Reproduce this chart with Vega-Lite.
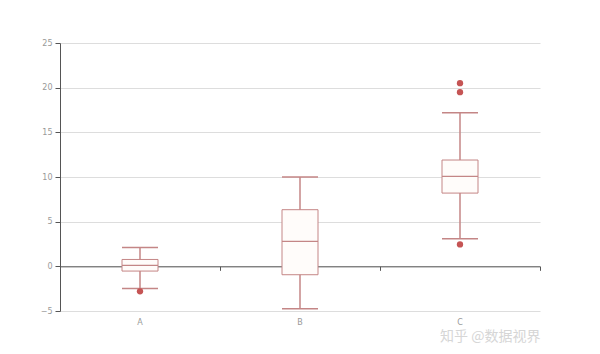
{
  "$schema": "https://vega.github.io/schema/vega-lite/v6.json",
  "width": 480,
  "height": 268,
  "autosize": {"type": "none"},
  "padding": {"left": 60, "top": 43, "right": 60, "bottom": 43},
  "background": "white",
  "config": {
    "view": {"stroke": null},
    "axis": {"labelFont": "DejaVu Sans", "labelFontSize": 8, "labelColor": "#999999"}
  },
  "title": {"text": "知乎 @数据视界", "orient": "bottom", "anchor": "end", "fontSize": 14, "font": "Noto Sans CJK SC", "fontWeight": "normal", "color": "#d6d6d6", "offset": 4},
  "datasets": {
    "stats": [
      {"group": "A", "lower": -2.47, "q1": -0.53, "median": 0.1, "q3": 0.77, "upper": 2.12},
      {"group": "B", "lower": -4.75, "q1": -0.94, "median": 2.79, "q3": 6.34, "upper": 10.0},
      {"group": "C", "lower": 3.1, "q1": 8.2, "median": 10.07, "q3": 11.9, "upper": 17.2}
    ],
    "outliers": [
      {"group": "A", "value": -2.8},
      {"group": "C", "value": 2.45},
      {"group": "C", "value": 19.5},
      {"group": "C", "value": 20.5}
    ]
  },
  "resolve": {"axis": {"x": "independent"}},
  "layer": [
    {
      "data": {"name": "stats"},
      "mark": {"type": "bar", "size": 36, "fill": "#fffcfa", "stroke": "#c48686", "strokeWidth": 1},
      "encoding": {
        "x": {"field": "group", "type": "nominal", "scale": {"paddingInner": 0, "paddingOuter": 0},
              "axis": {"orient": "bottom", "title": null, "domain": false, "ticks": false, "grid": false, "labelAngle": 0, "labelPadding": 7}},
        "y": {"field": "q1", "type": "quantitative", "scale": {"domain": [-5, 25], "nice": false, "zero": false},
              "axis": {"title": null, "values": [-5, 0, 5, 10, 15, 20, 25], "grid": true, "gridColor": "#dddddd", "gridWidth": 1,
                       "domainColor": "#555555", "tickColor": "#555555", "tickSize": 5, "labelPadding": 3}},
        "y2": {"field": "q3"}
      }
    },
    {
      "data": {"name": "stats"},
      "mark": {"type": "rule", "color": "#c48686", "strokeWidth": 1.5},
      "encoding": {
        "x": {"field": "group", "type": "nominal",
              "axis": {"orient": "top", "offset": -223.33, "title": null, "labels": false, "grid": false, "tickBand": "extent",
                       "tickSize": -4, "tickColor": "#555555", "domainColor": "#555555", "domainWidth": 1}},
        "y": {"field": "lower", "type": "quantitative"},
        "y2": {"field": "q1"}
      }
    },
    {
      "data": {"name": "stats"},
      "mark": {"type": "rule", "color": "#c48686", "strokeWidth": 1.5},
      "encoding": {
        "x": {"field": "group", "type": "nominal", "axis": null},
        "y": {"field": "q3", "type": "quantitative"},
        "y2": {"field": "upper"}
      }
    },
    {
      "data": {"name": "stats"},
      "mark": {"type": "tick", "color": "#c48686", "size": 36, "thickness": 1.5, "opacity": 1},
      "encoding": {
        "x": {"field": "group", "type": "nominal", "axis": null},
        "y": {"field": "lower", "type": "quantitative"}
      }
    },
    {
      "data": {"name": "stats"},
      "mark": {"type": "tick", "color": "#c48686", "size": 36, "thickness": 1.5, "opacity": 1},
      "encoding": {
        "x": {"field": "group", "type": "nominal", "axis": null},
        "y": {"field": "upper", "type": "quantitative"}
      }
    },
    {
      "data": {"name": "stats"},
      "mark": {"type": "tick", "color": "#c48686", "size": 36, "thickness": 1.2, "opacity": 1},
      "encoding": {
        "x": {"field": "group", "type": "nominal", "axis": null},
        "y": {"field": "median", "type": "quantitative"}
      }
    },
    {
      "data": {"name": "outliers"},
      "mark": {"type": "circle", "color": "#c55454", "size": 40, "opacity": 1},
      "encoding": {
        "x": {"field": "group", "type": "nominal", "axis": null},
        "y": {"field": "value", "type": "quantitative"}
      }
    }
  ]
}
